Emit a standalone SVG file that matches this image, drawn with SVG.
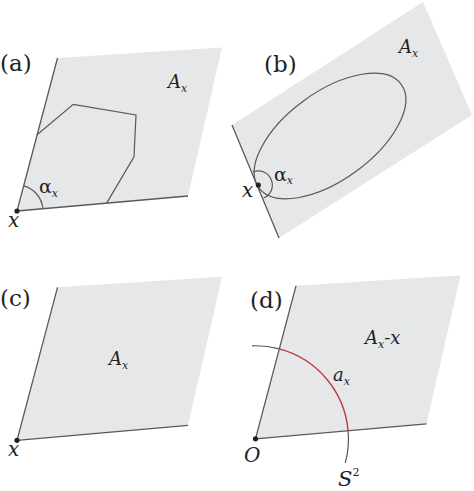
<svg xmlns="http://www.w3.org/2000/svg" width="474" height="491" viewBox="0 0 474 491">
<style>
.plane{fill:#e6e7e8;stroke:none}
.edge{stroke:#58595b;stroke-width:1.3;fill:none}
.curve{stroke:#58595b;stroke-width:1.2;fill:none}
.red{stroke:#c4373d;stroke-width:1.4;fill:none}
.dot{fill:#231f20}
text{fill:#231f20;font-family:"DejaVu Serif",serif}
.lab{font-size:23px}
.m{font-size:18px;font-style:italic}
.pt{font-size:20px;font-style:italic}
.g{font-size:19px}
.s{font-size:11px;font-style:italic}
</style>
<rect width="474" height="491" fill="#ffffff"/>

<g id="panel-a">
<polygon class="plane" points="17,211 57.5,58 222,47.5 188,196"/>
<line class="edge" x1="17" y1="211" x2="57.5" y2="58"/>
<line class="edge" x1="17" y1="211" x2="188" y2="196"/>
<polyline class="curve" points="36.8,135 73.3,104.3 136,115 134,156.7 106.7,203.1"/>
<path class="curve" d="M23.6,185.9 A26,26 0 0 1 42.9,208.7"/>
<circle class="dot" cx="17" cy="211" r="2.6"/>
<text class="lab" x="0" y="71">(a)</text>
<text class="m" x="168" y="88">A<tspan class="s" dy="4">x</tspan></text>
<text class="g" x="39" y="193">α<tspan class="s" dy="4">x</tspan></text>
<text class="pt" x="8" y="227">x</text>
</g>

<g id="panel-b">
<polygon class="plane" points="232,125 423,2 472,115 279,238"/>
<line class="edge" x1="232" y1="125" x2="279" y2="238"/>
<ellipse class="curve" cx="330" cy="136" rx="88" ry="44" transform="rotate(-36 330 136)"/>
<path class="curve" d="M253,172 A14,14 0 0 1 263.6,198"/>
<circle class="dot" cx="258.3" cy="185" r="2.6"/>
<text class="lab" x="264" y="72">(b)</text>
<text class="m" x="399" y="53">A<tspan class="s" dy="4">x</tspan></text>
<text class="g" x="274" y="181">α<tspan class="s" dy="3">x</tspan></text>
<text class="pt" x="242" y="197">x</text>
</g>

<g id="panel-c">
<polygon class="plane" points="17,440.3 57.5,287.3 222,276.8 188,425.3"/>
<line class="edge" x1="17" y1="440.3" x2="57.5" y2="287.3"/>
<line class="edge" x1="17" y1="440.3" x2="188" y2="425.3"/>
<circle class="dot" cx="17" cy="440.3" r="2.6"/>
<text class="lab" x="0" y="306">(c)</text>
<text class="m" x="109" y="365">A<tspan class="s" dy="4">x</tspan></text>
<text class="pt" x="8" y="456">x</text>
</g>

<g id="panel-d">
<polygon class="plane" points="255.5,438.8 296,285.8 460.5,275.3 426.5,423.8"/>
<line class="edge" x1="255.5" y1="438.8" x2="296" y2="285.8"/>
<line class="edge" x1="255.5" y1="438.8" x2="426.5" y2="423.8"/>
<path class="curve" d="M252,345.8 A93,93 0 0 1 279.3,348.9"/>
<path class="red" d="M279.3,348.9 A93,93 0 0 1 348.1,430.7"/>
<path class="curve" d="M348.1,430.7 A93,93 0 0 1 345.3,462.9"/>
<circle class="dot" cx="255.5" cy="438.8" r="2.6"/>
<text class="lab" x="250" y="308">(d)</text>
<text class="m" x="365" y="344">A<tspan class="s" dy="4">x</tspan><tspan dy="-4" style="font-size:18px">-x</tspan></text>
<text class="m" x="333" y="381">a<tspan class="s" dy="4">x</tspan></text>
<text class="pt" x="244" y="462">O</text>
<text class="m" x="338" y="486" style="font-size:21px">S<tspan style="font-size:11px;font-style:normal" dy="-10">2</tspan></text>
</g>
</svg>
